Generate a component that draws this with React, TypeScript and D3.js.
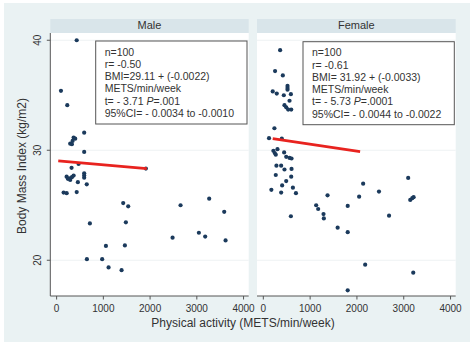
import React from "react";
import * as d3 from "d3";

const panels = ["Male", "Female"];

const maleX = [430, 93, 228, 590, 364, 398, 342, 291, 327, 590, 470, 320, 1910, 590, 590, 590, 214, 270, 327, 364, 291, 241, 455, 645, 150, 215, 430, 1425, 1532, 2652, 3265, 3586, 712, 1482, 2481, 3044, 3179, 3615, 1055, 1461, 648, 975, 1112, 1390];
const maleY = [40.0, 35.4, 34.1, 31.6, 31.15, 31.05, 30.85, 30.6, 30.55, 29.85, 28.75, 28.4, 28.33, 27.9, 27.7, 27.5, 27.6, 27.45, 27.55, 27.7, 27.3, 27.4, 27.1, 26.9, 26.15, 26.1, 26.2, 25.2, 24.9, 25.0, 25.6, 24.4, 23.35, 23.45, 22.05, 22.5, 22.15, 21.8, 21.3, 21.35, 20.1, 20.1, 19.35, 19.1];

const femaleX = [359, 251, 417, 201, 287, 517, 517, 517, 438, 589, 560, 452, 489, 531, 596, 237, 122, 395, 215, 244, 266, 302, 445, 489, 560, 603, 280, 381, 452, 603, 266, 489, 596, 402, 632, 697, 172, 381, 589, 1129, 1172, 1286, 1293, 1372, 1588, 1803, 1803, 2047, 2133, 2471, 2686, 3095, 3139, 3182, 3211, 2176, 3203, 1803];
const femaleY = [39.1, 37.2, 36.8, 35.35, 35.15, 35.85, 35.65, 35.5, 35.0, 35.1, 34.5, 34.1, 33.9, 33.7, 33.7, 32.0, 31.1, 31.05, 29.95, 29.75, 29.6, 30.1, 29.8, 29.4, 29.3, 29.25, 28.6, 28.6, 28.25, 28.3, 27.75, 27.2, 27.6, 26.8, 26.6, 26.1, 26.4, 26.15, 24.0, 25.0, 24.66, 24.2, 23.8, 25.9, 22.96, 24.94, 22.55, 25.78, 26.96, 26.24, 24.05, 27.48, 25.48, 25.64, 25.73, 19.6, 18.87, 17.27];

const maleFitX = [35, 1930];
const maleFitY = [29.03, 28.33];
const femaleFitX = [201, 2068];
const femaleFitY = [31.05, 29.87];

const xTicks = [0, 1000, 2000, 3000, 4000];
const yTicks = [20, 30, 40];

const maleText = ["n=100", "r= -0.50", "BMI=29.11 + (-0.0022)", "METS/min/week", "t= - 3.71 |P|=.001", "95%CI= - 0.0034 to -0.0010"];
const femaleText = ["n=100", "r= -0.61", "BMI= 31.92 + (-0.0033)", "METS/min/week", "t= - 5.73 |P|=.0001", "95%CI= - 0.0044 to -0.0022"];

const FONT = "'Liberation Sans', Arial, sans-serif";

function renderLine(s: string) {
  const parts = s.split("|");
  if (parts.length === 1) return s;
  return (
    <>
      {parts[0]}
      <tspan fontStyle="italic">{parts[1]}</tspan>
      {parts[2]}
    </>
  );
}

export default function App() {
  const W = 474, H = 348;
  const yScale = d3.scaleLinear().domain([16.75, 40.66]).range([296, 33]);
  const panelDefs = [
    { name: panels[0], x0: 50.3, x1: 248.7, xs: maleX, ys: maleY, fx: maleFitX, fy: maleFitY, text: maleText, box: [95.7, 41, 247, 124] },
    { name: panels[1], x0: 257, x1: 455.7, xs: femaleX, ys: femaleY, fx: femaleFitX, fy: femaleFitY, text: femaleText, box: [303, 41.7, 454.3, 124.7] },
  ];
  const line = d3.line<[number, number]>();
  return (
    <svg width={W} height={H} style={{ position: "absolute", left: 0, top: 0, display: "block" }} fontFamily={FONT}>
      <rect x={0} y={0} width={W} height={H} fill="#ffffff" />
      <rect x={4} y={3} width={466} height={339} fill="#eaf2f3" />
      {panelDefs.map((p, pi) => {
        const xScale = d3.scaleLinear().domain([-135, 4110]).range([p.x0, p.x1]);
        const fitPts: [number, number][] = p.fx.map((v, i) => [xScale(v), yScale(p.fy[i])]);
        return (
          <g key={p.name}>
            <rect x={p.x0} y={19} width={p.x1 - p.x0} height={14} fill="#d9e5ea" />
            <text x={(p.x0 + p.x1) / 2} y={29} textAnchor="middle" fontSize={11} fill="#333">{p.name}</text>
            <rect x={p.x0} y={33} width={p.x1 - p.x0} height={263} fill="#ffffff" />
            {yTicks.map((t) => (
              <line key={t} x1={p.x0} x2={p.x1} y1={yScale(t)} y2={yScale(t)} stroke="#eef2f3" strokeWidth={1} />
            ))}
            <line x1={p.x0} x2={p.x1} y1={296} y2={296} stroke="#555" strokeWidth={1} />
            {xTicks.map((t) => (
              <g key={t}>
                <line x1={xScale(t)} x2={xScale(t)} y1={296} y2={299.5} stroke="#555" strokeWidth={1} />
                <text x={xScale(t)} y={311.5} textAnchor="middle" fontSize={10} fill="#333">{t}</text>
              </g>
            ))}
            {pi === 0 && (
              <g>
                <line x1={p.x0} x2={p.x0} y1={33} y2={296} stroke="#555" strokeWidth={1} />
                {yTicks.map((t) => (
                  <g key={t}>
                    <line x1={p.x0 - 3.5} x2={p.x0} y1={yScale(t)} y2={yScale(t)} stroke="#555" strokeWidth={1} />
                    <text transform={`translate(41.3,${yScale(t)}) rotate(-90)`} textAnchor="middle" fontSize={10} fill="#333">{t}</text>
                  </g>
                ))}
              </g>
            )}
            {p.xs.map((v, i) => (
              <circle key={i} cx={xScale(v)} cy={yScale(p.ys[i])} r={2.1} fill="#1b3a5c" />
            ))}
            <path d={line(fitPts) || ""} stroke="#e8231f" strokeWidth={2.8} fill="none" />
            <rect x={p.box[0]} y={p.box[1]} width={p.box[2] - p.box[0]} height={p.box[3] - p.box[1]} fill="#ffffff" stroke="#555" strokeWidth={1} />
            {p.text.map((s, i) => (
              <text key={i} x={p.box[0] + 9} y={p.box[1] + 14.5 + i * 12.3} fontSize={10.5} fill="#333">{renderLine(s)}</text>
            ))}
          </g>
        );
      })}
      <text transform="translate(26,166) rotate(-90)" textAnchor="middle" fontSize={12} fill="#333">Body Mass Index (kg/m2)</text>
      <text x={243} y={327} textAnchor="middle" fontSize={12} fill="#333">Physical activity (METS/min/week)</text>
    </svg>
  );
}
